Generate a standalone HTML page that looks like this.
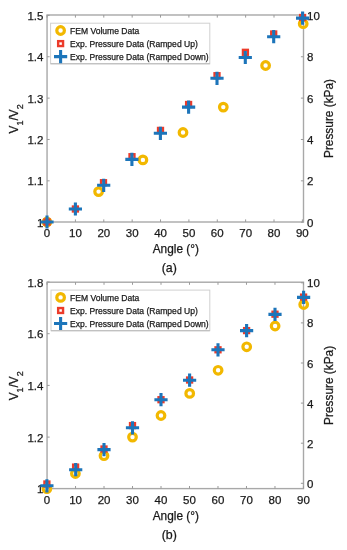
<!DOCTYPE html>
<html><head><meta charset="utf-8"><title>Figure</title>
<style>
html,body{margin:0;padding:0;background:#fff;}
body{width:347px;height:550px;overflow:hidden;}
svg{display:block;font-family:"Liberation Sans",Arial,Helvetica,sans-serif;}
text{stroke:#1a1a1a;stroke-width:0.25px;}
</style></head><body>
<svg width="347" height="550" viewBox="0 0 347 550">
<defs><filter id="bl" x="0" y="0" width="100%" height="100%"><feGaussianBlur stdDeviation="0.3"/></filter></defs>
<rect width="347" height="550" fill="#fff"/>
<g filter="url(#bl)">
<rect x="47.05" y="15" width="256.45" height="207" fill="none" stroke="#a8a8a8" stroke-width="1.4"/>
<path d="M47.05 222v-2.6M47.05 15v2.6M75.42 222v-2.6M75.42 15v2.6M103.79 222v-2.6M103.79 15v2.6M132.16 222v-2.6M132.16 15v2.6M160.53 222v-2.6M160.53 15v2.6M188.9 222v-2.6M188.9 15v2.6M217.27 222v-2.6M217.27 15v2.6M245.64 222v-2.6M245.64 15v2.6M274.01 222v-2.6M274.01 15v2.6M302.38 222v-2.6M302.38 15v2.6M47.05 222.2h2.6M47.05 180.84h2.6M47.05 139.48h2.6M47.05 98.12h2.6M47.05 56.76h2.6M47.05 15.4h2.6M303.5 222.2h-2.6M303.5 180.84h-2.6M303.5 139.48h-2.6M303.5 98.12h-2.6M303.5 56.76h-2.6M303.5 15.4h-2.6" stroke="#9a9a9a" stroke-width="1" fill="none"/>
<g font-size="11.5" fill="#1a1a1a">
<text x="47.05" y="237" text-anchor="middle">0</text>
<text x="75.42" y="237" text-anchor="middle">10</text>
<text x="103.79" y="237" text-anchor="middle">20</text>
<text x="132.16" y="237" text-anchor="middle">30</text>
<text x="160.53" y="237" text-anchor="middle">40</text>
<text x="188.9" y="237" text-anchor="middle">50</text>
<text x="217.27" y="237" text-anchor="middle">60</text>
<text x="245.64" y="237" text-anchor="middle">70</text>
<text x="274.01" y="237" text-anchor="middle">80</text>
<text x="302.38" y="237" text-anchor="middle">90</text>
<text x="43.45" y="226.7" text-anchor="end">1</text>
<text x="43.45" y="185.34" text-anchor="end">1.1</text>
<text x="43.45" y="143.98" text-anchor="end">1.2</text>
<text x="43.45" y="102.62" text-anchor="end">1.3</text>
<text x="43.45" y="61.26" text-anchor="end">1.4</text>
<text x="43.45" y="19.9" text-anchor="end">1.5</text>
<text x="307" y="226.7">0</text>
<text x="307" y="185.34">2</text>
<text x="307" y="143.98">4</text>
<text x="307" y="102.62">6</text>
<text x="307" y="61.26">8</text>
<text x="307" y="19.9">10</text>
</g>
<text x="175.8" y="253" font-size="11.85" fill="#1a1a1a" text-anchor="middle">Angle (°)</text>
<text transform="translate(17.6 118.9) rotate(-90)" font-size="11.85" fill="#1a1a1a" text-anchor="middle">V<tspan font-size="9.01" dy="5.2">1</tspan><tspan dy="-5.2">/V</tspan><tspan font-size="9.01" dy="5.2">2</tspan></text>
<text transform="translate(332.9 118.5) rotate(-90)" font-size="11.85" fill="#1a1a1a" text-anchor="middle">Pressure (kPa)</text>
<text x="169.3" y="272" font-size="12.4" fill="#1a1a1a" text-anchor="middle">(a)</text>
<circle cx="47" cy="222" r="3.8" fill="none" stroke="#f2b800" stroke-width="3.2"/>
<circle cx="98.6" cy="191.6" r="3.8" fill="none" stroke="#f2b800" stroke-width="3.2"/>
<circle cx="142.9" cy="159.9" r="3.8" fill="none" stroke="#f2b800" stroke-width="3.2"/>
<circle cx="183" cy="132.5" r="3.8" fill="none" stroke="#f2b800" stroke-width="3.2"/>
<circle cx="223.3" cy="107.1" r="3.8" fill="none" stroke="#f2b800" stroke-width="3.2"/>
<circle cx="265.6" cy="65.5" r="3.8" fill="none" stroke="#f2b800" stroke-width="3.2"/>
<circle cx="303.2" cy="23.7" r="3.8" fill="none" stroke="#f2b800" stroke-width="3.2"/>
<rect x="44.55" y="219.55" width="4.9" height="4.9" fill="none" stroke="#ec3b2c" stroke-width="2.4"/>
<rect x="72.95" y="206.55" width="4.9" height="4.9" fill="none" stroke="#ec3b2c" stroke-width="2.4"/>
<rect x="101.05" y="180.25" width="4.9" height="4.9" fill="none" stroke="#ec3b2c" stroke-width="2.4"/>
<rect x="129.55" y="154.25" width="4.9" height="4.9" fill="none" stroke="#ec3b2c" stroke-width="2.4"/>
<rect x="158.05" y="127.95" width="4.9" height="4.9" fill="none" stroke="#ec3b2c" stroke-width="2.4"/>
<rect x="186.15" y="102.05" width="4.9" height="4.9" fill="none" stroke="#ec3b2c" stroke-width="2.4"/>
<rect x="214.55" y="73.25" width="4.9" height="4.9" fill="none" stroke="#ec3b2c" stroke-width="2.4"/>
<rect x="242.95" y="49.85" width="4.9" height="4.9" fill="none" stroke="#ec3b2c" stroke-width="2.4"/>
<rect x="271.25" y="31.55" width="4.9" height="4.9" fill="none" stroke="#ec3b2c" stroke-width="2.4"/>
<rect x="300.15" y="15.05" width="4.9" height="4.9" fill="none" stroke="#ec3b2c" stroke-width="2.4"/>
<path d="M40.4 222h13.2M47 215.4v13.2" stroke="#1c74ba" stroke-width="3.1" fill="none"/>
<path d="M68.8 209h13.2M75.4 202.4v13.2" stroke="#1c74ba" stroke-width="3.1" fill="none"/>
<path d="M97.1 185.3h13.2M103.7 178.7v13.2" stroke="#1c74ba" stroke-width="3.1" fill="none"/>
<path d="M125.3 159.4h13.2M131.9 152.8v13.2" stroke="#1c74ba" stroke-width="3.1" fill="none"/>
<path d="M153.8 133.3h13.2M160.4 126.7v13.2" stroke="#1c74ba" stroke-width="3.1" fill="none"/>
<path d="M182 107.1h13.2M188.6 100.5v13.2" stroke="#1c74ba" stroke-width="3.1" fill="none"/>
<path d="M210.4 78.3h13.2M217 71.7v13.2" stroke="#1c74ba" stroke-width="3.1" fill="none"/>
<path d="M238.7 57.5h13.2M245.3 50.9v13.2" stroke="#1c74ba" stroke-width="3.1" fill="none"/>
<path d="M267.1 36.7h13.2M273.7 30.1v13.2" stroke="#1c74ba" stroke-width="3.1" fill="none"/>
<path d="M296 18.1h13.2M302.6 11.5v13.2" stroke="#1c74ba" stroke-width="3.1" fill="none"/>
<rect x="50.6" y="23.2" width="159.2" height="40.6" fill="#fff" stroke="#d0d0d0" stroke-width="1"/>
<path d="M50.6 63.8H209.8" stroke="#b8b8b8" stroke-width="1.1"/>
<circle cx="60.6" cy="30.5" r="3.8" fill="none" stroke="#f2b800" stroke-width="3.2"/>
<rect x="58.15" y="41.15" width="4.9" height="4.9" fill="none" stroke="#ec3b2c" stroke-width="2.4"/>
<path d="M54 56.6h13.2M60.6 50v13.2" stroke="#1c74ba" stroke-width="3.1" fill="none"/>
<text x="70" y="34.1" font-size="8.55" fill="#1a1a1a">FEM Volume Data</text>
<text x="70" y="47.2" font-size="8.55" fill="#1a1a1a">Exp. Pressure Data (Ramped Up)</text>
<text x="70" y="60.2" font-size="8.55" fill="#1a1a1a">Exp. Pressure Data (Ramped Down)</text>
<rect x="47.05" y="282.2" width="256.45" height="206.4" fill="none" stroke="#a8a8a8" stroke-width="1.4"/>
<path d="M47.05 488.6v-2.6M47.05 282.2v2.6M75.54 488.6v-2.6M75.54 282.2v2.6M104.03 488.6v-2.6M104.03 282.2v2.6M132.52 488.6v-2.6M132.52 282.2v2.6M161.01 488.6v-2.6M161.01 282.2v2.6M189.5 488.6v-2.6M189.5 282.2v2.6M217.99 488.6v-2.6M217.99 282.2v2.6M246.48 488.6v-2.6M246.48 282.2v2.6M274.97 488.6v-2.6M274.97 282.2v2.6M303.46 488.6v-2.6M303.46 282.2v2.6M47.05 488.8h2.6M47.05 437.1h2.6M47.05 385.4h2.6M47.05 333.7h2.6M47.05 282h2.6M303.5 483.3h-2.6M303.5 443.2h-2.6M303.5 403.1h-2.6M303.5 363h-2.6M303.5 322.9h-2.6M303.5 282.8h-2.6" stroke="#9a9a9a" stroke-width="1" fill="none"/>
<g font-size="11.5" fill="#1a1a1a">
<text x="47.05" y="503.6" text-anchor="middle">0</text>
<text x="75.54" y="503.6" text-anchor="middle">10</text>
<text x="104.03" y="503.6" text-anchor="middle">20</text>
<text x="132.52" y="503.6" text-anchor="middle">30</text>
<text x="161.01" y="503.6" text-anchor="middle">40</text>
<text x="189.5" y="503.6" text-anchor="middle">50</text>
<text x="217.99" y="503.6" text-anchor="middle">60</text>
<text x="246.48" y="503.6" text-anchor="middle">70</text>
<text x="274.97" y="503.6" text-anchor="middle">80</text>
<text x="303.46" y="503.6" text-anchor="middle">90</text>
<text x="43.45" y="493.3" text-anchor="end">1</text>
<text x="43.45" y="441.6" text-anchor="end">1.2</text>
<text x="43.45" y="389.9" text-anchor="end">1.4</text>
<text x="43.45" y="338.2" text-anchor="end">1.6</text>
<text x="43.45" y="286.5" text-anchor="end">1.8</text>
<text x="307" y="487.8">0</text>
<text x="307" y="447.7">2</text>
<text x="307" y="407.6">4</text>
<text x="307" y="367.5">6</text>
<text x="307" y="327.4">8</text>
<text x="307" y="287.3">10</text>
</g>
<text x="175.8" y="519.6" font-size="11.85" fill="#1a1a1a" text-anchor="middle">Angle (°)</text>
<text transform="translate(17.6 385.8) rotate(-90)" font-size="11.85" fill="#1a1a1a" text-anchor="middle">V<tspan font-size="9.01" dy="5.2">1</tspan><tspan dy="-5.2">/V</tspan><tspan font-size="9.01" dy="5.2">2</tspan></text>
<text transform="translate(332.9 385.4) rotate(-90)" font-size="11.85" fill="#1a1a1a" text-anchor="middle">Pressure (kPa)</text>
<text x="169.3" y="538.6" font-size="12.4" fill="#1a1a1a" text-anchor="middle">(b)</text>
<circle cx="46.9" cy="488.6" r="3.8" fill="none" stroke="#f2b800" stroke-width="3.2"/>
<circle cx="75.4" cy="473.5" r="3.8" fill="none" stroke="#f2b800" stroke-width="3.2"/>
<circle cx="104" cy="455.7" r="3.8" fill="none" stroke="#f2b800" stroke-width="3.2"/>
<circle cx="132.5" cy="437.1" r="3.8" fill="none" stroke="#f2b800" stroke-width="3.2"/>
<circle cx="161" cy="415.5" r="3.8" fill="none" stroke="#f2b800" stroke-width="3.2"/>
<circle cx="189.7" cy="393.4" r="3.8" fill="none" stroke="#f2b800" stroke-width="3.2"/>
<circle cx="218.1" cy="370.3" r="3.8" fill="none" stroke="#f2b800" stroke-width="3.2"/>
<circle cx="246.7" cy="346.8" r="3.8" fill="none" stroke="#f2b800" stroke-width="3.2"/>
<circle cx="275.1" cy="326" r="3.8" fill="none" stroke="#f2b800" stroke-width="3.2"/>
<circle cx="303.7" cy="304.5" r="3.8" fill="none" stroke="#f2b800" stroke-width="3.2"/>
<rect x="44.45" y="481.55" width="4.9" height="4.9" fill="none" stroke="#ec3b2c" stroke-width="2.4"/>
<rect x="73.15" y="464.65" width="4.9" height="4.9" fill="none" stroke="#ec3b2c" stroke-width="2.4"/>
<rect x="101.55" y="446.55" width="4.9" height="4.9" fill="none" stroke="#ec3b2c" stroke-width="2.4"/>
<rect x="130.05" y="423.15" width="4.9" height="4.9" fill="none" stroke="#ec3b2c" stroke-width="2.4"/>
<rect x="158.55" y="397.25" width="4.9" height="4.9" fill="none" stroke="#ec3b2c" stroke-width="2.4"/>
<rect x="187.15" y="377.55" width="4.9" height="4.9" fill="none" stroke="#ec3b2c" stroke-width="2.4"/>
<rect x="215.55" y="347.35" width="4.9" height="4.9" fill="none" stroke="#ec3b2c" stroke-width="2.4"/>
<rect x="244.15" y="328.15" width="4.9" height="4.9" fill="none" stroke="#ec3b2c" stroke-width="2.4"/>
<rect x="272.55" y="311.75" width="4.9" height="4.9" fill="none" stroke="#ec3b2c" stroke-width="2.4"/>
<rect x="301.15" y="294.65" width="4.9" height="4.9" fill="none" stroke="#ec3b2c" stroke-width="2.4"/>
<path d="M40.3 485.8h13.2M46.9 479.2v13.2" stroke="#1c74ba" stroke-width="3.1" fill="none"/>
<path d="M69.1 469.7h13.2M75.7 463.1v13.2" stroke="#1c74ba" stroke-width="3.1" fill="none"/>
<path d="M97.4 449.6h13.2M104 443v13.2" stroke="#1c74ba" stroke-width="3.1" fill="none"/>
<path d="M125.9 427.8h13.2M132.5 421.2v13.2" stroke="#1c74ba" stroke-width="3.1" fill="none"/>
<path d="M154.4 399.7h13.2M161 393.1v13.2" stroke="#1c74ba" stroke-width="3.1" fill="none"/>
<path d="M183 380.2h13.2M189.6 373.6v13.2" stroke="#1c74ba" stroke-width="3.1" fill="none"/>
<path d="M211.4 349.8h13.2M218 343.2v13.2" stroke="#1c74ba" stroke-width="3.1" fill="none"/>
<path d="M240 330.6h13.2M246.6 324v13.2" stroke="#1c74ba" stroke-width="3.1" fill="none"/>
<path d="M268.4 314.4h13.2M275 307.8v13.2" stroke="#1c74ba" stroke-width="3.1" fill="none"/>
<path d="M297 297.4h13.2M303.6 290.8v13.2" stroke="#1c74ba" stroke-width="3.1" fill="none"/>
<rect x="51" y="290.1" width="158.8" height="40.6" fill="#fff" stroke="#d0d0d0" stroke-width="1"/>
<path d="M51 330.7H209.8" stroke="#b8b8b8" stroke-width="1.1"/>
<circle cx="60.6" cy="297.4" r="3.8" fill="none" stroke="#f2b800" stroke-width="3.2"/>
<rect x="58.15" y="308.05" width="4.9" height="4.9" fill="none" stroke="#ec3b2c" stroke-width="2.4"/>
<path d="M54 323.5h13.2M60.6 316.9v13.2" stroke="#1c74ba" stroke-width="3.1" fill="none"/>
<text x="70" y="301" font-size="8.55" fill="#1a1a1a">FEM Volume Data</text>
<text x="70" y="314.1" font-size="8.55" fill="#1a1a1a">Exp. Pressure Data (Ramped Up)</text>
<text x="70" y="327.1" font-size="8.55" fill="#1a1a1a">Exp. Pressure Data (Ramped Down)</text>
</g>
</svg>
</body></html>
